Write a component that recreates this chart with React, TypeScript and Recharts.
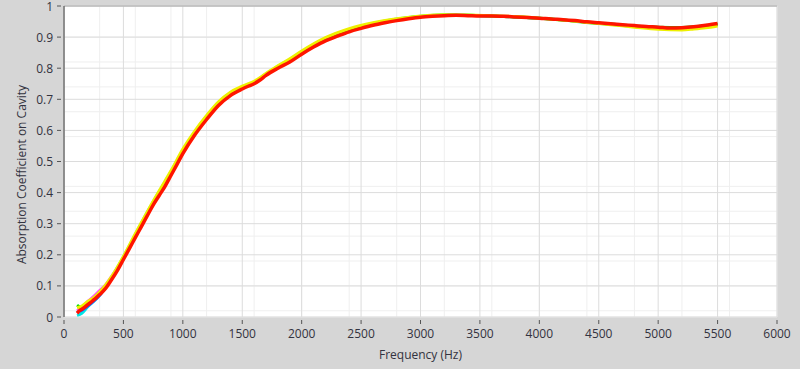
import React from "react";
import {
  LineChart,
  Line,
  XAxis,
  YAxis,
  CartesianGrid,
  ReferenceLine,
  Label,
} from "recharts";

// ---- data ----
const xTicks = [0, 500, 1000, 1500, 2000, 2500, 3000, 3500, 4000, 4500, 5000, 5500, 6000];
const yTicks = [0, 0.1, 0.2, 0.3, 0.4, 0.5, 0.6, 0.7, 0.8, 0.9, 1];
const xMinorTicks = Array.from({ length: 61 }, (_, i) => i * 100);
const yMinorTicks = Array.from({ length: 51 }, (_, i) => Math.round(i * 2) / 100);

const redFreq = [110, 130, 150, 175, 200, 225, 250, 275, 300, 350, 400, 450, 500, 550, 600, 650, 700, 750, 800, 850, 900, 950, 1000, 1100, 1200, 1300, 1400, 1500, 1550, 1600, 1650, 1700, 1800, 1900, 2000, 2100, 2200, 2300, 2400, 2500, 2600, 2700, 2800, 2900, 3000, 3100, 3200, 3300, 3400, 3500, 3600, 3700, 3800, 3900, 4000, 4100, 4200, 4300, 4400, 4500, 4600, 4700, 4800, 4900, 5000, 5100, 5200, 5300, 5400, 5500];
const redVal = [0.012, 0.02, 0.025, 0.032, 0.04, 0.047, 0.055, 0.063, 0.072, 0.092, 0.12, 0.15, 0.185, 0.22, 0.255, 0.29, 0.325, 0.36, 0.39, 0.42, 0.455, 0.49, 0.525, 0.585, 0.635, 0.68, 0.712, 0.733, 0.742, 0.75, 0.762, 0.777, 0.8, 0.82, 0.845, 0.868, 0.888, 0.903, 0.917, 0.928, 0.938, 0.946, 0.953, 0.959, 0.964, 0.967, 0.969, 0.97, 0.969, 0.968, 0.968, 0.967, 0.965, 0.963, 0.961, 0.958, 0.956, 0.953, 0.949, 0.946, 0.943, 0.94, 0.937, 0.934, 0.932, 0.929, 0.93, 0.933, 0.938, 0.944];

const gridFreq = [110, 150, 200, 250, 300, 400, 500, 600, 700, 800, 900, 1000, 1100, 1200, 1300, 1400, 1500, 1600, 1700, 1800, 1900, 2000, 2200, 2400, 2600, 2800, 3000, 3200, 3400, 3600, 3800, 4000, 4200, 4400, 4600, 4800, 5000, 5200, 5300, 5400, 5500];
const yellowVal = [0.03, 0.035, 0.05, 0.062, 0.08, 0.13, 0.195, 0.268, 0.338, 0.405, 0.47, 0.54, 0.598, 0.648, 0.692, 0.723, 0.742, 0.758, 0.783, 0.808, 0.83, 0.855, 0.898, 0.927, 0.946, 0.959, 0.968, 0.972, 0.971, 0.969, 0.966, 0.961, 0.955, 0.947, 0.94, 0.932, 0.925, 0.923, 0.926, 0.93, 0.936];
const greenVal = [0.038, 0.03, 0.045, 0.058, 0.076, 0.124, 0.19, 0.26, 0.33, 0.396, 0.46, 0.53, 0.59, 0.64, 0.685, 0.716, 0.736, 0.752, 0.78, 0.803, 0.824, 0.849, 0.892, 0.921, 0.941, 0.956, 0.966, 0.971, 0.97, 0.968, 0.965, 0.961, 0.955, 0.948, 0.942, 0.936, 0.932, 0.931, 0.933, 0.937, 0.941];
const cyanVal = [0.005, 0.012, 0.033, 0.05, 0.07, 0.127, 0.193, 0.265, 0.336, 0.402, 0.467, 0.536, 0.594, 0.645, 0.689, 0.72, 0.739, 0.755, 0.781, 0.806, 0.828, 0.853, 0.896, 0.925, 0.944, 0.958, 0.967, 0.971, 0.97, 0.968, 0.965, 0.961, 0.955, 0.947, 0.941, 0.934, 0.929, 0.928, 0.93, 0.934, 0.94];

const magentaFreq = [110, 150, 200, 250, 300, 350, 400, 500, 600, 700];
const magentaVal = [0.02, 0.03, 0.05, 0.066, 0.085, 0.103, 0.13, 0.19, 0.258, 0.328];

const blueFreq = [110, 150, 200, 250, 300, 350, 400, 450, 500];
const blueVal = [0.015, 0.022, 0.036, 0.052, 0.07, 0.095, 0.123, 0.154, 0.188];

const toData = (f: number[], v: number[]) => f.map((x, i) => ({ f: x, v: v[i] }));

const series = [
  { name: "cyan", color: "#00e6e6", data: toData(gridFreq, cyanVal), w: 3 },
  { name: "blue", color: "#3c3cff", data: toData(blueFreq, blueVal), w: 3 },
  { name: "magenta", color: "#ff44ff", data: toData(magentaFreq, magentaVal), w: 3 },
  { name: "green", color: "#00dd00", data: toData(gridFreq, greenVal), w: 3 },
  { name: "yellow", color: "#eef000", data: toData(gridFreq, yellowVal), w: 3 },
  { name: "red", color: "#ff1500", data: toData(redFreq, redVal), w: 3.5 },
];

const FONT = "'Segoe UI', 'Open Sans', 'Noto Sans', sans-serif";
const TEXT = "#333340";

const XTick = (props: any) => {
  const { x, y, payload } = props;
  return (
    <g>
      <line x1={x} x2={x} y1={y + 3} y2={y + 7} stroke="#555" strokeWidth={1} />
      <text x={x} y={y + 21} textAnchor="middle" fontSize={12} fontFamily={FONT} fill={TEXT}>
        {payload.value}
      </text>
    </g>
  );
};

const YTick = (props: any) => {
  const { x, y, payload } = props;
  const label = String(Math.round(payload.value * 10) / 10);
  return (
    <g>
      <line x1={x - 7} x2={x - 3} y1={y} y2={y} stroke="#555" strokeWidth={1} />
      <text x={x - 11} y={y + 4.5} textAnchor="end" fontSize={12} fontFamily={FONT} fill={TEXT}>
        {label}
      </text>
    </g>
  );
};

export default function App() {
  return (
    <div
      style={{
        position: "absolute",
        left: 0,
        top: 0,
        width: 800,
        height: 369,
        background: "#d6d6d6",
        overflow: "hidden",
      }}
    >
      <LineChart
        width={800}
        height={369}
        margin={{ top: 6, right: 23, bottom: 0, left: 0 }}
      >
        <XAxis
          xAxisId="minor"
          type="number"
          dataKey="f"
          domain={[0, 6000]}
          ticks={xMinorTicks}
          hide
          allowDataOverflow
        />
        <YAxis
          yAxisId="minor"
          type="number"
          domain={[0, 1]}
          ticks={yMinorTicks}
          hide
          allowDataOverflow
        />
        <CartesianGrid
          xAxisId="minor"
          yAxisId="minor"
          stroke="#efefef"
          fill="#ffffff"
          fillOpacity={1}
        />
        <XAxis
          type="number"
          dataKey="f"
          domain={[0, 6000]}
          ticks={xTicks}
          interval={0}
          axisLine={false}
          tickLine={false}
          tickSize={0}
          tickMargin={0}
          height={52}
          tick={<XTick />}
          allowDataOverflow
        >
          <Label
            value="Frequency (Hz)"
            position="insideBottom"
            offset={10}
            style={{ fontSize: 12, fontFamily: FONT, fill: TEXT }}
          />
        </XAxis>
        <YAxis
          type="number"
          domain={[0, 1]}
          ticks={yTicks}
          interval={0}
          width={64}
          axisLine={{ stroke: "#707070", strokeWidth: 1.5 }}
          tickLine={false}
          tickSize={0}
          tickMargin={0}
          tick={<YTick />}
          allowDataOverflow
        >
          <Label
            value="Absorption Coefficient on Cavity"
            angle={-90}
            position="center"
            dx={-10}
            dy={13}
            style={{ fontSize: 12, fontFamily: FONT, fill: TEXT, textAnchor: "middle" }}
          />
        </YAxis>
        <CartesianGrid stroke="#dcdcdc" />
        <ReferenceLine y={1} stroke="#a6a6a6" strokeWidth={1} />
        {series.map((s) => (
          <Line
            key={s.name}
            data={s.data}
            dataKey="v"
            type="monotone"
            stroke={s.color}
            strokeWidth={s.w}
            dot={false}
            activeDot={false}
            isAnimationActive={false}
          />
        ))}
      </LineChart>
    </div>
  );
}
